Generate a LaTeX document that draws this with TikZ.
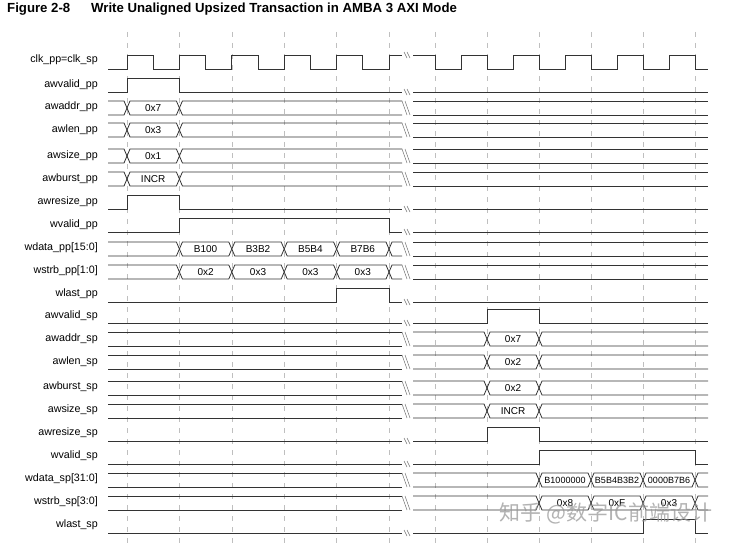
\documentclass[tikz,border=0pt]{standalone}
\usepackage{fontspec}
\setmainfont{Liberation Sans}
\newfontfamily\cjk{Noto Sans CJK SC}
\usepackage{tikz}
\usetikzlibrary{positioning}
\tikzstyle{wave} = [draw=black!80, line width=0.8pt]
\tikzstyle{cutmark} = [draw=black!55, line width=0.5pt]
\tikzstyle{gridline} = [draw=black!25, line width=0.5pt, dash pattern=on 5pt off 6pt]
\tikzstyle{signame} = [anchor=east, inner sep=0pt, font=\fontsize{10.7}{12}\selectfont]
\tikzstyle{val} = [inner sep=0pt, font=\fontsize{10}{12}\selectfont]
\tikzstyle{valsmall} = [inner sep=0pt, font=\fontsize{9}{11}\selectfont]
\tikzstyle{figtitle} = [anchor=base west, inner sep=0pt, font=\bfseries\fontsize{13.2}{15}\selectfont]
% bus pieces, drawn inside a row scope (0 = upper level, 14 = lower level)
\newcommand{\hexv}[4]{\draw[wave] (#2,7) -- (#2+3,0) -- (#3-3,0) -- (#3,7) -- (#3-3,14) -- (#2+3,14) -- cycle;
  \node[val] (#1) at ({(#2+#3)/2},7) {#4};}
\newcommand{\hexs}[4]{\draw[wave] (#2,7) -- (#2+3,0) -- (#3-3,0) -- (#3,7) -- (#3-3,14) -- (#2+3,14) -- cycle;
  \node[valsmall] (#1) at ({(#2+#3)/2},7) {#4};}
\newcommand{\idlein}[2]{\draw[wave] (#1,0) -- (#2-3,0) -- (#2,7) -- (#2-3,14) -- (#1,14);}
\newcommand{\idleout}[2]{\draw[wave] (#2,0) -- (#1+3,0) -- (#1,7) -- (#1+3,14) -- (#2,14);}
\newcommand{\idle}[2]{\draw[wave] (#1,0) -- (#2,0) (#1,14) -- (#2,14);}
% break marks
\newcommand{\cutlow}{\draw[cutmark] (404,11) -- (407,17) (407,11) -- (410,17);}
\newcommand{\cuthigh}{\draw[cutmark] (404,-3) -- (407,3) (407,-3) -- (410,3);}
\newcommand{\cutbus}{\draw[cutmark] (402,0) -- (407,14) (405,0) -- (410,14);}

\begin{document}
\begin{tikzpicture}[x=1pt,y=-1pt]
\useasboundingbox (0,0) rectangle (735,543);
\node (fig) [figtitle] at (7,13) {Figure 2-8};
\node (ttl) [figtitle] at (91,13) {Write Unaligned Upsized Transaction in AMBA 3 AXI Mode};
%-----------------------------------------------
\foreach \x in {127,179.4,231.8,284.2,336.6,389,435,487,539,591,643,695}
  \draw[gridline] (\x,32) -- (\x,543);
%-----------------------------------------------
\foreach \nm/\txt/\y in {lclk/clk\_pp=clk\_sp/53, lawvalidpp/awvalid\_pp/78, lawaddrpp/awaddr\_pp/100,
    lawlenpp/awlen\_pp/123, lawsizepp/awsize\_pp/149, lawburstpp/awburst\_pp/172,
    lawresizepp/awresize\_pp/195, lwvalidpp/wvalid\_pp/218, lwdatapp/wdata\_pp[15:0]/241,
    lwstrbpp/wstrb\_pp[1:0]/264, lwlastpp/wlast\_pp/287, lawvalidsp/awvalid\_sp/309,
    lawaddrsp/awaddr\_sp/332, lawlensp/awlen\_sp/355, lawburstsp/awburst\_sp/380,
    lawsizesp/awsize\_sp/403, lawresizesp/awresize\_sp/426, lwvalidsp/wvalid\_sp/449,
    lwdatasp/wdata\_sp[31:0]/472, lwstrbsp/wstrb\_sp[3:0]/495, lwlastsp/wlast\_sp/518}
  \node (\nm) [signame] at (98,\y+7) {\txt};
%-----------------------------------------------
% clk_pp=clk_sp
\begin{scope}[yshift=-55pt]
\draw[wave] (108,14) foreach \x in {127,179.4,231.8,284.2,336.6} {-- (\x,14) -- (\x,0) -- (\x+26.2,0) -- (\x+26.2,14)}
  -- (389,14) -- (389,0) -- (402,0);
\draw[wave] (413,0) foreach \x in {435,487,539,591,643} {-- (\x,0) -- (\x,14) -- (\x+26,14) -- (\x+26,0)}
  -- (695,0) -- (695,14) -- (708,14);
\cuthigh
\end{scope}
% awvalid_pp
\begin{scope}[yshift=-78pt]
\draw[wave] (108,14) -- (127,14) -- (127,0) -- (179.4,0) -- (179.4,14) -- (402,14);
\draw[wave] (413,14) -- (708,14);
\cutlow
\end{scope}
% awaddr_pp
\begin{scope}[yshift=-101pt]
\idlein{108}{127} \hexv{addrpp}{127}{179.4}{0x7} \idleout{179.4}{402} \cutbus \idle{413}{708}
\end{scope}
% awlen_pp
\begin{scope}[yshift=-123pt]
\idlein{108}{127} \hexv{lenpp}{127}{179.4}{0x3} \idleout{179.4}{402} \cutbus \idle{413}{708}
\end{scope}
% awsize_pp
\begin{scope}[yshift=-149pt]
\idlein{108}{127} \hexv{sizepp}{127}{179.4}{0x1} \idleout{179.4}{402} \cutbus \idle{413}{708}
\end{scope}
% awburst_pp
\begin{scope}[yshift=-172pt]
\idlein{108}{127} \hexv{burstpp}{127}{179.4}{INCR} \idleout{179.4}{402} \cutbus \idle{413}{708}
\end{scope}
% awresize_pp
\begin{scope}[yshift=-195pt]
\draw[wave] (108,14) -- (127,14) -- (127,0) -- (179.4,0) -- (179.4,14) -- (402,14);
\draw[wave] (413,14) -- (708,14);
\cutlow
\end{scope}
% wvalid_pp
\begin{scope}[yshift=-218pt]
\draw[wave] (108,14) -- (179.4,14) -- (179.4,0) -- (389,0) -- (389,14) -- (402,14);
\draw[wave] (413,14) -- (708,14);
\cutlow
\end{scope}
% wdata_pp
\begin{scope}[yshift=-242pt]
\idlein{108}{179.4}
\hexv{datapp1}{179.4}{231.8}{B100} \hexv{datapp2}{231.8}{284.2}{B3B2}
\hexv{datapp3}{284.2}{336.6}{B5B4} \hexv{datapp4}{336.6}{389}{B7B6}
\idleout{389}{402} \cutbus \idle{413}{708}
\end{scope}
% wstrb_pp
\begin{scope}[yshift=-265pt]
\idlein{108}{179.4}
\hexv{strbpp1}{179.4}{231.8}{0x2} \hexv{strbpp2}{231.8}{284.2}{0x3}
\hexv{strbpp3}{284.2}{336.6}{0x3} \hexv{strbpp4}{336.6}{389}{0x3}
\idleout{389}{402} \cutbus \idle{413}{708}
\end{scope}
% wlast_pp
\begin{scope}[yshift=-288pt]
\draw[wave] (108,14) -- (336.6,14) -- (336.6,0) -- (389,0) -- (389,14) -- (402,14);
\draw[wave] (413,14) -- (708,14);
\cutlow
\end{scope}
% awvalid_sp
\begin{scope}[yshift=-309pt]
\draw[wave] (108,14) -- (402,14);
\draw[wave] (413,14) -- (487,14) -- (487,0) -- (539,0) -- (539,14) -- (708,14);
\cutlow
\end{scope}
% awaddr_sp
\begin{scope}[yshift=-332pt]
\idle{108}{402} \cutbus \idlein{413}{487} \hexv{addrsp}{487}{539}{0x7} \idleout{539}{708}
\end{scope}
% awlen_sp
\begin{scope}[yshift=-355pt]
\idle{108}{402} \cutbus \idlein{413}{487} \hexv{lensp}{487}{539}{0x2} \idleout{539}{708}
\end{scope}
% awburst_sp
\begin{scope}[yshift=-381pt]
\idle{108}{402} \cutbus \idlein{413}{487} \hexv{burstsp}{487}{539}{0x2} \idleout{539}{708}
\end{scope}
% awsize_sp
\begin{scope}[yshift=-404pt]
\idle{108}{402} \cutbus \idlein{413}{487} \hexv{sizesp}{487}{539}{INCR} \idleout{539}{708}
\end{scope}
% awresize_sp
\begin{scope}[yshift=-427pt]
\draw[wave] (108,14) -- (402,14);
\draw[wave] (413,14) -- (487,14) -- (487,0) -- (539,0) -- (539,14) -- (708,14);
\cutlow
\end{scope}
% wvalid_sp
\begin{scope}[yshift=-450pt]
\draw[wave] (108,14) -- (402,14);
\draw[wave] (413,14) -- (539,14) -- (539,0) -- (695,0) -- (695,14) -- (708,14);
\cutlow
\end{scope}
% wdata_sp
\begin{scope}[yshift=-473pt]
\idle{108}{402} \cutbus \idlein{413}{539}
\hexs{datasp1}{539}{591}{B1000000} \hexs{datasp2}{591}{643}{B5B4B3B2} \hexs{datasp3}{643}{695}{0000B7B6}
\idleout{695}{708}
\end{scope}
% wstrb_sp
\begin{scope}[yshift=-496pt]
\idle{108}{402} \cutbus \idlein{413}{539}
\hexv{strbsp1}{539}{591}{0x8} \hexv{strbsp2}{591}{643}{0xF} \hexv{strbsp3}{643}{695}{0x3}
\idleout{695}{708}
\end{scope}
% wlast_sp
\begin{scope}[yshift=-519pt]
\draw[wave] (108,14) -- (402,14);
\draw[wave] (413,14) -- (643,14) -- (643,0) -- (695,0) -- (695,14) -- (708,14);
\cutlow
\end{scope}
%-----------------------------------------------
\node (wm) [text=black!40, opacity=0.75, font=\cjk\fontsize{21}{24}\selectfont] at (606,513) {知乎 @数字IC前端设计};
\end{tikzpicture}
\end{document}
